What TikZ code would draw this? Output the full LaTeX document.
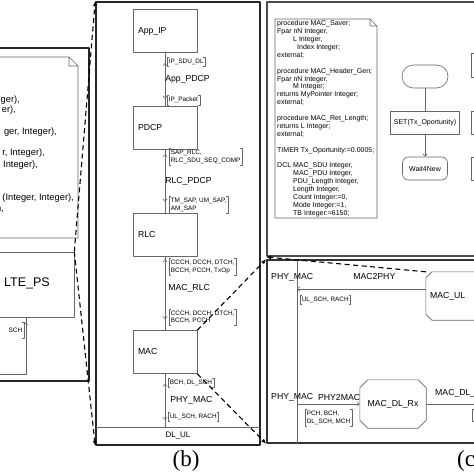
\documentclass[tikz,border=0pt]{standalone}
\usepackage{fontspec}
\setmainfont{Liberation Sans}
\newfontfamily\capfont{Liberation Serif}
\usetikzlibrary{arrows.meta,decorations.markings}
\begin{document}
\begin{tikzpicture}[x=1pt,y=-1pt,font=\fontsize{8.7}{10}\selectfont,line join=round,
 >={Straight Barb[length=2.4pt,width=4.4pt]},
 frame/.style={draw=black!85,line width=1.6pt,inner sep=0pt},
 blk/.style={draw=black!60,line width=.6pt,text width=54pt,inner xsep=5pt,minimum height=43pt,align=left},
 box/.style={inner sep=4pt,minimum height=48pt},
 sig/.style={font=\fontsize{6.4}{7.6}\selectfont,align=left,inner sep=1.6pt,anchor=west},
 thin/.style={draw=black!60,line width=.6pt},
 chan/.style 2 args={thin,postaction={decorate,decoration={markings,mark=at position #1 with {\arrow{<}},mark=at position #2 with {\arrow{>}}}}},
 chanup/.style={thin,postaction={decorate,decoration={markings,mark=at position #1 with {\arrow{<}}}}},
 zoomln/.style={draw=black,line width=1.1pt,dash pattern=on 5pt off 3.5pt,-{Latex[length=5pt,width=4pt]}},
 flow/.style={thin,minimum height=23pt,font=\fontsize{7}{8}\selectfont}]
\def\brk#1{\draw[black!60,line width=.5pt] ([xshift=2pt]#1.north west)--(#1.north west)--(#1.south west)--([xshift=2pt]#1.south west) ([xshift=-2pt]#1.north east)--(#1.north east)--(#1.south east)--([xshift=-2pt]#1.south east);}
\def\chamf#1#2{\draw[thin] ([xshift=#2]#1.north west)--([xshift=-#2]#1.north east)--([yshift=-#2]#1.north east)--([yshift=#2]#1.south east)--([xshift=-#2]#1.south east)--([xshift=#2]#1.south west)--([yshift=#2]#1.south west)--([yshift=-#2]#1.north west)--cycle;}
\useasboundingbox (0,0) rectangle (474,474);
\node[frame,minimum width=149pt,minimum height=333pt] (pa) at (14.5,214.5) {};
\node[frame,minimum width=164pt,minimum height=443pt] (pb) at (178,223.5) {};
\node[frame,draw=black!70,line width=2pt,minimum width=293pt,minimum height=254pt] (pc) at (413.5,129) {};
\node[frame,draw=black!80,minimum width=293pt,minimum height=183pt] (pd) at (413.5,351.5) {};
\draw[thin] (-80,57)--(69,57)--(78,66)--(78,238)--(-80,238) (69,57)|-(78,66);
\foreach \x/\y/\t in {20/100/{ger),},16/110/{er),},57/132/{ger, Integer),},45/153/{r, Integer),},38/165/{Integer),},74/198/{(Integer, Integer),},4/210/{n,}}{\node[anchor=east,inner sep=0pt,font=\fontsize{9.3}{11}\selectfont] (n\y) at (\x,\y) {\t};}
\node[blk,text width=124pt,minimum height=65pt] (lte) at (7,284.5) {};
\node[anchor=east,inner sep=0pt,font=\fontsize{12.5}{14}\selectfont] (ltelab) at (50,283) {LTE\_PS};
\coordinate (ltech) at (26,374);
\draw[chanup=8pt] (lte.south -| ltech)--(ltech)--++(-90,0);
\node[sig,anchor=east,minimum height=16pt] (ltesig) at (24,330) {SCH};
\draw[black!60,line width=.5pt] ([xshift=-2pt]ltesig.north east)--(ltesig.north east)--(ltesig.south east)--([xshift=-2pt]ltesig.south east);
\node[blk] (appip) at (165,31) {App\_IP};
\node[blk] (pdcp) at (165,127.5) {PDCP};
\node[blk] (rlc) at (165,234.5) {RLC};
\node[blk] (mac) at (165,352) {MAC};
\node[minimum width=164pt,minimum height=18pt,inner sep=0pt,font=\fontsize{8}{9}\selectfont] (dlul) at (178,436) {DL\_UL};
\draw[thin] (dlul.north west)--(dlul.north east);
\draw[chan={13.5pt}{-7pt}] (appip)--node[pos=.51,anchor=west,inner sep=0pt] (chA) {App\_PDCP} (pdcp);
\draw[chan={8pt}{-11pt}] (pdcp)--node[pos=.5,anchor=west,inner sep=0pt] (chR) {RLC\_PDCP} (rlc);
\draw[chan={6pt}{-11pt}] (rlc)--node[pos=.44,anchor=west,inner sep=0pt,xshift=3pt] (chM) {MAC\_RLC} (mac);
\draw[chan={13pt}{-7pt}] (mac)--node[pos=.5,anchor=west,inner sep=0pt,xshift=5pt] (chP) {PHY\_MAC} (mac |- dlul.north);
\node[sig] (s1) at (167,62) {IP\_SDU\_DL};
\node[sig] (s2) at (167,100) {IP\_Packet};
\node[sig] (s3) at (169,157) {SAP\_RLC,\\RLC\_SDU\_SEQ\_COMP};
\node[sig] (s4) at (169,205) {TM\_SAP, UM\_SAP,\\AM\_SAP};
\node[sig] (s5) at (169,267) {CCCH, DCCH, DTCH,\\BCCH, PCCH, TxOp};
\node[sig] (s6) at (169,317) {CCCH, DCCH, DTCH,\\BCCH, PCCH};
\node[sig] (s7) at (168,383) {BCH, DL\_SCH};
\node[sig] (s8) at (168,417) {UL\_SCH, RACH};
\node[sig] (s9) at (300,300) {UL\_SCH, RACH};
\node[sig] (s10) at (305,418) {PCH, BCH,\\DL\_SCH, MCH};
\foreach \s in {s1,s2,s3,s4,s5,s6,s7,s8,s9,s10}{\brk{\s}}
\draw[thin] (275,19)--(370,19)--(377,26)--(377,218)--(275,218)--cycle (370,19)|-(377,26);
\node[anchor=north west,inner sep=0pt,align=left,font=\fontsize{7}{7.9}\selectfont] (decl) at (277,20.5) {procedure MAC\_Saver;\\Fpar nN Integer,\\\hspace*{16pt}L Integer,\\\hspace*{20pt}Index Integer;\\external;\\[7.9pt]procedure MAC\_Header\_Gen;\\Fpar nN Integer,\\\hspace*{16pt}M Integer;\\returns MyPointer Integer;\\external;\\[7.9pt]procedure MAC\_Ret\_Length;\\returns L Integer;\\external;\\[7.9pt]TIMER Tx\_Oportunity:=0.0005;\\[7.9pt]DCL MAC\_SDU Integer,\\\hspace*{16pt}MAC\_PDU Integer,\\\hspace*{16pt}PDU\_Length Integer,\\\hspace*{16pt}Length Integer,\\\hspace*{16pt}Count Integer:=0,\\\hspace*{16pt}Mode Integer:=1,\\\hspace*{16pt}TB Integer:=6150;};
\node[flow,rounded corners=11.5pt,minimum width=46pt] (start) at (425,76.5) {};
\node[flow,minimum width=69pt] (settx) at (425,122.5) {SET(Tx\_Oportunity)};
\node[flow,rounded corners=6pt,minimum width=45pt] (wait) at (425,168.5) {Wait4New};
\draw[thin] (start)--(settx);
\draw[thin,->] (settx)--(wait);
\node[flow,minimum width=40pt,minimum height=24pt] (nx1) at (491,65) {};
\node[flow,minimum width=40pt] (nx2) at (491,122.5) {};
\node[flow,minimum width=40pt] (nx3) at (491,168.5) {};
\coordinate (bnd) at (297,260);
\draw[thin] (bnd)--(bnd |- pd.south);
\node[box,minimum width=94pt,text width=86pt,align=left] (macul) at (473,296) {MAC\_UL};
\chamf{macul}{6pt}
\node[box,minimum width=66pt] (dlrx) at (393,404) {MAC\_DL\_Rx};
\chamf{dlrx}{8pt}
\coordinate (ulin) at ([yshift=7pt]macul.west);
\draw[thin,->] (ulin)--node[pos=.4,yshift=12pt] (m2p) {MAC2PHY} (ulin -| bnd);
\draw[thin,->] (bnd |- dlrx.west)--node[pos=.67,yshift=7pt] (p2m) {PHY2MAC} (dlrx.west);
\coordinate (dlout) at (520,404);
\draw[thin] (dlrx.east)--(dlout);
\node[anchor=west,inner sep=0pt] (dltx) at (435,393) {MAC\_DL\_};
\draw[black!60,line width=.5pt] (475,409)--(472,409)--(472,421)--(475,421);
\node[anchor=west,inner sep=0pt] (pm1) at (271,277) {PHY\_MAC};
\node[anchor=west,inner sep=0pt] (pm2) at (271,397) {PHY\_MAC};
\draw[zoomln] (lte.north east)--(pb.north west);
\draw[zoomln] (lte.north east)--(pb.south west);
\draw[zoomln] (mac.north east)--(pd.north west);
\draw[zoomln] (mac.south east)--(pd.south west);
\draw[zoomln] (macul.north west)--(pc.south west);
\node[font=\capfont\fontsize{23}{25}\selectfont] (capb) at (186,461) {(b)};
\node[font=\capfont\fontsize{23}{25}\selectfont,anchor=west,inner sep=0pt] (capc) at (457,461) {(c)};
\end{tikzpicture}
\end{document}
